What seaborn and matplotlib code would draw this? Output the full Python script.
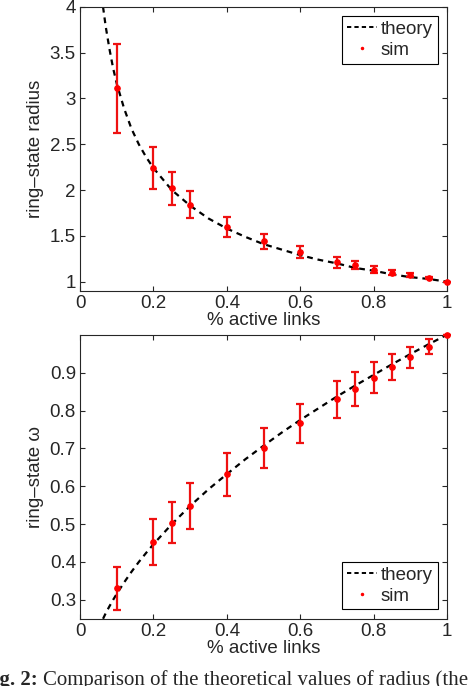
import numpy as np
import pandas as pd
import matplotlib
matplotlib.use('Agg')
import matplotlib.pyplot as plt
import seaborn as sns
from matplotlib.lines import Line2D

# theory curves
theory_x = [0.0625, 0.07, 0.08, 0.09, 0.1, 0.12, 0.14, 0.16, 0.18, 0.2, 0.25, 0.3, 0.35,
            0.4, 0.45, 0.5, 0.55, 0.6, 0.65, 0.7, 0.75, 0.8, 0.85, 0.9, 0.95, 1.0]
theory_radius = [4.0, 3.78, 3.54, 3.33, 3.16, 2.89, 2.67, 2.50, 2.36, 2.24, 2.0, 1.83, 1.69,
                 1.58, 1.49, 1.41, 1.35, 1.29, 1.24, 1.20, 1.15, 1.12, 1.08, 1.05, 1.03, 1.0]
theory_omega = [0.25, 0.265, 0.283, 0.30, 0.316, 0.346, 0.374, 0.40, 0.424, 0.447, 0.5, 0.548, 0.592,
                0.632, 0.671, 0.707, 0.742, 0.775, 0.806, 0.837, 0.866, 0.894, 0.922, 0.949, 0.975, 1.0]

# simulation points with error bars
sim_x = [0.1, 0.2, 0.25, 0.3, 0.4, 0.5, 0.6, 0.7, 0.75, 0.8, 0.85, 0.9, 0.95, 1.0]
sim_radius = [3.11, 2.24, 2.02, 1.84, 1.60, 1.44, 1.32, 1.21, 1.18, 1.13, 1.10, 1.07, 1.04, 1.0]
sim_radius_err = [0.49, 0.23, 0.18, 0.15, 0.11, 0.08, 0.065, 0.055, 0.045, 0.04, 0.03, 0.02, 0.015, 0.0]
sim_omega = [0.330, 0.453, 0.504, 0.548, 0.631, 0.701, 0.766, 0.830, 0.857, 0.886, 0.915, 0.940, 0.969, 1.0]
sim_omega_err = [0.056, 0.06, 0.055, 0.06, 0.057, 0.052, 0.051, 0.049, 0.044, 0.041, 0.035, 0.029, 0.021, 0.0]

theory = pd.DataFrame({'x': theory_x, 'radius': theory_radius, 'omega': theory_omega})
sim = pd.DataFrame({'x': sim_x, 'radius': sim_radius, 'radius_err': sim_radius_err,
                    'omega': sim_omega, 'omega_err': sim_omega_err})

sns.set_style("ticks")
plt.rcParams['font.family'] = ['Liberation Sans', 'DejaVu Sans']
plt.rcParams['xtick.direction'] = 'in'
plt.rcParams['ytick.direction'] = 'in'
plt.rcParams['axes.linewidth'] = 0.8

fig = plt.figure(figsize=(4.74, 6.86), dpi=100)
ax1 = fig.add_axes([0.169, 0.576, 0.774, 0.414])
ax2 = fig.add_axes([0.169, 0.098, 0.774, 0.414])

def draw(ax, col, ylim, yticks, yticklabels, ylabel, legend_loc):
    sns.lineplot(data=theory, x='x', y=col, ax=ax, color='black', linestyle='--',
                 linewidth=1.6, dashes=False)
    ax.lines[-1].set_dashes([2.6, 2.2])
    ax.errorbar(sim['x'], sim[col], yerr=sim[col + '_err'], fmt='o', color='#ff0000',
                ecolor='#ee1111', elinewidth=1.6, capsize=3, capthick=1.6,
                markersize=3.8, clip_on=False, zorder=3)
    ax.set_xlim(0, 1)
    ax.set_ylim(*ylim)
    ax.set_xticks([0, 0.2, 0.4, 0.6, 0.8, 1.0])
    ax.set_xticklabels(['0', '0.2', '0.4', '0.6', '0.8', '1'])
    ax.set_yticks(yticks)
    ax.set_yticklabels(yticklabels)
    ax.tick_params(axis='both', which='both', labelsize=13.5, length=3.5, width=0.8,
                   top=True, right=True, pad=3)
    ax.set_xlabel('% active links', fontsize=13.5, labelpad=0)
    ax.set_ylabel(ylabel, fontsize=13.5, labelpad=4)
    handles = [Line2D([0], [0], color='black', linestyle=(0, (2.2, 1.6)), linewidth=1.4),
               Line2D([0], [0], color='#ff0000', marker='.', markersize=3, linestyle='none')]
    leg = ax.legend(handles, ['theory', 'sim'], loc=legend_loc, fontsize=13.5,
                    frameon=True, fancybox=False, edgecolor='black', framealpha=1,
                    handlelength=1.6, handletextpad=0.2, borderpad=0.25,
                    labelspacing=0.2, borderaxespad=0.5)
    leg.get_frame().set_linewidth(0.8)

draw(ax1, 'radius', (0.9, 4.0), [1, 1.5, 2, 2.5, 3, 3.5, 4],
     ['1', '1.5', '2', '2.5', '3', '3.5', '4'], 'ring–state radius', 'upper right')
draw(ax2, 'omega', (0.25, 1.0), [0.3, 0.4, 0.5, 0.6, 0.7, 0.8, 0.9],
     ['0.3', '0.4', '0.5', '0.6', '0.7', '0.8', '0.9'], 'ring–state ω', 'lower right')

# caption, cropped at the figure edge as in the source scan
serif = ['Liberation Serif', 'DejaVu Serif']
fig.text(38 / 474, 1 / 686, 'Fig. 2:', fontsize=15, fontweight='bold', family=serif,
         ha='right', va='baseline')
fig.text(43 / 474, 1 / 686, 'Comparison of the theoretical values of radius (the',
         fontsize=15, family=serif, ha='left', va='baseline')

fig.savefig('out.png', dpi=100)
